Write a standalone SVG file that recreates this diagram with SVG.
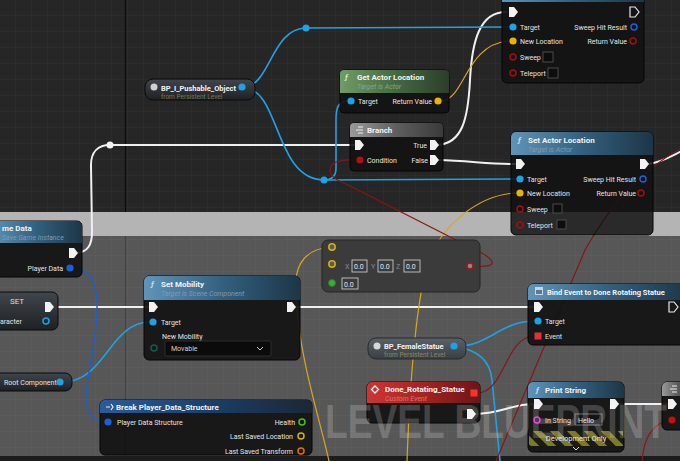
<svg xmlns="http://www.w3.org/2000/svg" width="680" height="461" viewBox="0 0 680 461">
<style>
.t{font-family:Roboto,"Liberation Sans",sans-serif;font-size:7px;fill:#e4e4e4}
.h{font-family:Roboto,"Liberation Sans",sans-serif;font-size:8px;font-weight:bold;fill:#f2f2f2}
.s{font-family:Roboto,"Liberation Sans",sans-serif;font-size:7px;font-style:italic;fill:#7f9bb0}
.e{text-anchor:end}
.body{fill:#121212;fill-opacity:.92;stroke:#050505;stroke-width:1}
.ex{fill:#f2f2f2}
.exo{fill:none;stroke:#e8e8e8;stroke-width:1.2}
.w{fill:none;stroke-linecap:round}
.wx{stroke:#f0f0f0;stroke-width:2}
.wb{stroke:#1ea2e6;stroke-width:1.6}
.wd{stroke:#1a5fd0;stroke-width:1.4}
.wy{stroke:#d6a81e;stroke-width:1.2}
.wr{stroke:#8c1414;stroke-width:1.2}
.box{fill:#0d0d0d;stroke:#4a4a4a;stroke-width:1}
.pb{fill:#1ea2e6}
.vb{fill:none;stroke:#d8d8d8;stroke-width:.8}
.vl{font-family:Roboto,"Liberation Sans",sans-serif;font-size:7px;fill:#e8e8e8}
.vx{font-family:Roboto,"Liberation Sans",sans-serif;font-size:7px;fill:#8a8a8a}
</style>
<defs>
<pattern id="gTop" width="16" height="16" patternUnits="userSpaceOnUse"><path d="M16 0V16H0" fill="none" stroke="#303030" stroke-width="1"/></pattern>
<pattern id="gLow" width="16" height="16" patternUnits="userSpaceOnUse"><path d="M16 0V16H0" fill="none" stroke="#5e5e5e" stroke-width="1"/></pattern>
<linearGradient id="hB" x1="0" x2="1"><stop offset="0" stop-color="#5f94ba"/><stop offset=".5" stop-color="#33607f"/><stop offset="1" stop-color="#1d3648"/></linearGradient>
<linearGradient id="hB2" x1="0" x2="1"><stop offset="0" stop-color="#2a5c9a"/><stop offset=".6" stop-color="#1a3a60"/><stop offset="1" stop-color="#1a2836"/></linearGradient>
<linearGradient id="hG" x1="0" x2="1"><stop offset="0" stop-color="#6f9c68"/><stop offset=".5" stop-color="#456a42"/><stop offset="1" stop-color="#2c3e2a"/></linearGradient>
<linearGradient id="hGr" x1="0" x2="1"><stop offset="0" stop-color="#9a9a9a"/><stop offset=".5" stop-color="#5e5e5e"/><stop offset="1" stop-color="#3a3a3a"/></linearGradient>
<linearGradient id="hR" x1="0" x2="1"><stop offset="0" stop-color="#d03434"/><stop offset=".6" stop-color="#9a2020"/><stop offset="1" stop-color="#6a1616"/></linearGradient>
<linearGradient id="pill" x1="0" y1="0" x2="0" y2="1"><stop offset="0" stop-color="#40464c"/><stop offset="1" stop-color="#1e2124"/></linearGradient>
<linearGradient id="pill2" x1="0" y1="0" x2="0" y2="1"><stop offset="0" stop-color="#5a6168"/><stop offset="1" stop-color="#3a3f44"/></linearGradient>
<pattern id="stripes" width="12" height="12" patternUnits="userSpaceOnUse" patternTransform="rotate(-45)"><rect width="12" height="12" fill="#1c1c14"/><rect width="6" height="12" fill="#7d7a2a"/></pattern>
<path id="exec" d="M-4,-5H1L5,0L1,5H-4Z"/>
</defs>

<!-- background -->
<rect x="0" y="0" width="680" height="461" fill="#262626"/>
<rect x="0" y="0" width="680" height="212" fill="url(#gTop)"/>
<line x1="125.5" y1="0" x2="125.5" y2="212" stroke="#0c0c0c" stroke-width="1.2"/>
<rect x="0" y="236" width="680" height="220" fill="#575757"/>
<rect x="0" y="236" width="680" height="220" fill="url(#gLow)"/>
<line x1="125.5" y1="236" x2="125.5" y2="456" stroke="#444" stroke-width="1.2"/>
<rect x="0" y="212" width="680" height="24" fill="#b4b4b4"/>
<rect x="0" y="456" width="680" height="5" fill="#1c1c1c"/>

<g id="connectors">
<path class="w wx" d="M76,253 C88,252 92,245 92,232 L91,165 C91,152 98,145 110,145 L356,145"/>
<path class="w wx" d="M438,145 C462,143 468,120 470,80 C472,40 480,12 506,12"/>
<path class="w wx" d="M438,160 C470,161 490,164 516,164"/>
<path class="w wx" d="M648,164 C660,163 670,157 680,152"/>
<path class="w wx" d="M53,307 L149,307"/>
<path class="w wx" d="M295,307 L534,307"/>
<path class="w wx" d="M474,414 C505,413 510,404 535,404"/>
<path class="w wx" d="M618,404 L668,404"/>
<path class="w wb" d="M245,87 C270,85 272,28 306,28 L509,27"/>
<path class="w wb" d="M245,88 C280,90 275,180 324,180 L516,179"/>
<path class="w wb" d="M348,101 C338,101 336,108 336,120 L336,168 C336,176 332,180 324,180"/>
<path class="w wb" d="M63,382 C105,382 110,322 150,322"/>
<path class="w wb" d="M457,346 C490,346 500,321 535,321"/>
<path class="w wb" d="M457,347 C478,350 490,360 492,380 L500,461"/>
<path class="w wd" d="M73,268 C92,270 98,285 97,310 C96,350 85,380 86,400 C87,415 95,422 105,422"/>
<path class="w wy" d="M441,101 C465,100 465,45 508,41"/>
<path class="w wy" d="M517,193 C480,194 440,225 427,265 C415,310 410,380 407,461"/>
<path class="w wy" d="M330,247 C300,250 293,270 296,300 C300,360 320,420 329,461"/>
<path class="w wr" d="M357,160 C338,159 330,163 330,170 C330,178 340,181 350,186 L462,243 C500,260 500,268 474,266"/>
<path class="w wr" d="M682,148 C640,170 610,205 585,250 L496,461"/>
<path class="w wr" d="M477,393 C505,393 505,336 535,336"/>
<path class="w wr" d="M669,420 C650,425 644,440 642,461"/>
<circle cx="110" cy="145" r="3.5" fill="#f4f4f4"/>
<circle cx="306" cy="28" r="3.5" fill="#1ea2e6"/>
<circle cx="324" cy="180" r="3.5" fill="#1ea2e6"/>
</g>

<!-- top partial node -->
<g id="node-set-actor-location-top">
<rect class="body" x="502" y="-10" width="142" height="93" rx="5"/>
<rect x="502" y="-10" width="142" height="12" fill="url(#hB)"/>
<use href="#exec" x="513" y="12" class="ex"/>
<use href="#exec" x="634" y="12" class="exo"/>
<circle cx="513" cy="27" r="3.6" class="pb"/><text class="t" x="520" y="30">Target</text>
<text class="t e" x="627" y="30">Sweep Hit Result</text><circle cx="634" cy="27" r="3" fill="none" stroke="#1760e0" stroke-width="1.5"/>
<circle cx="513" cy="41" r="3.6" fill="#e8b400"/><text class="t" x="520" y="44">New Location</text>
<text class="t e" x="627" y="44">Return Value</text><circle cx="633" cy="41" r="3" fill="none" stroke="#a01010" stroke-width="1.5"/>
<circle cx="513" cy="57" r="3" fill="none" stroke="#a01010" stroke-width="1.5"/><text class="t" x="520" y="60">Sweep</text>
<rect class="box" x="543" y="52" width="10" height="10"/>
<circle cx="513" cy="73" r="3" fill="none" stroke="#a01010" stroke-width="1.5"/><text class="t" x="520" y="76">Teleport</text>
<rect class="box" x="548" y="68" width="10" height="10"/>
</g>

<g id="node-bp-pushable">
<rect x="145" y="79" width="110" height="21" rx="8" fill="url(#pill)" stroke="#0a0a0a"/>
<circle cx="154" cy="87" r="3.5" fill="#cfcfcf"/>
<text class="h" x="161" y="91" style="font-size:7.5px">BP_I_Pushable_Object</text>
<text class="t" x="161" y="98.5" style="font-size:6.5px;fill:#7a774c">from Persistent Level</text>
<circle cx="242" cy="87" r="3.6" class="pb"/>
</g>

<g id="node-get-actor-location">
<rect class="body" x="340" y="70" width="109" height="43" rx="4"/>
<rect x="340" y="70" width="109" height="23" rx="4" fill="url(#hG)"/>
<rect x="340" y="88" width="109" height="5" fill="url(#hG)"/>
<text class="h" x="345" y="80" style="font-style:italic;fill:#cfe8cc">ƒ</text>
<text class="h" x="357" y="80">Get Actor Location</text>
<text class="s" x="357" y="89" style="fill:#86a884">Target is Actor</text>
<circle cx="351" cy="101" r="3.6" class="pb"/><text class="t" x="358" y="104">Target</text>
<text class="t e" x="432" y="104">Return Value</text><circle cx="438" cy="101" r="3.6" fill="#e8b400"/>
</g>

<g id="node-branch">
<rect class="body" x="350" y="123" width="93" height="48" rx="4"/>
<rect x="350" y="123" width="93" height="14" rx="4" fill="url(#hGr)"/>
<rect x="350" y="133" width="93" height="4" fill="url(#hGr)"/>
<path d="M358,127h5M356,130h7M358,133h5" stroke="#eee" stroke-width="1.2" fill="none"/>
<text class="h" x="367" y="133">Branch</text>
<use href="#exec" x="359" y="145" class="ex"/>
<text class="t e" x="427" y="148">True</text><use href="#exec" x="434" y="145" class="ex"/>
<circle cx="360" cy="160" r="3.6" fill="#b01010"/><text class="t" x="367" y="163">Condition</text>
<text class="t e" x="428" y="163">False</text><use href="#exec" x="434" y="160" class="ex"/>
</g>

<g id="node-set-actor-location">
<rect class="body" x="511" y="132" width="142" height="103" rx="5" style="fill-opacity:.85"/>
<rect x="511" y="132" width="142" height="23" rx="5" fill="url(#hB)"/>
<rect x="511" y="150" width="142" height="5" fill="url(#hB)"/>
<text class="h" x="518" y="143" style="font-style:italic;fill:#cde">ƒ</text>
<text class="h" x="528" y="143">Set Actor Location</text>
<text class="s" x="528" y="152">Target is Actor</text>
<use href="#exec" x="520" y="164" class="ex"/>
<use href="#exec" x="644" y="164" class="ex"/>
<circle cx="520" cy="179" r="3.6" class="pb"/><text class="t" x="527" y="182">Target</text>
<text class="t e" x="636" y="182">Sweep Hit Result</text><circle cx="643" cy="179" r="3" fill="none" stroke="#1760e0" stroke-width="1.5"/>
<circle cx="520" cy="193" r="3.6" fill="#e8b400"/><text class="t" x="527" y="196">New Location</text>
<text class="t e" x="636" y="196">Return Value</text><circle cx="641" cy="193" r="3" fill="none" stroke="#a01010" stroke-width="1.5"/>
<circle cx="520" cy="209" r="3" fill="none" stroke="#a01010" stroke-width="1.5"/><text class="t" x="527" y="212">Sweep</text>
<rect class="box" x="553" y="204" width="9" height="9"/>
<circle cx="520" cy="225" r="3" fill="none" stroke="#a01010" stroke-width="1.5"/><text class="t" x="527" y="228">Teleport</text>
<rect class="box" x="557" y="220" width="9" height="9"/>
</g>

<g id="node-load-game-data">
<rect class="body" x="-10" y="221" width="92" height="56" rx="5"/>
<rect x="-10" y="221" width="92" height="22" rx="5" fill="url(#hB)"/>
<rect x="-10" y="238" width="92" height="5" fill="url(#hB)"/>
<text class="h" x="2" y="231">me Data</text>
<text class="s" x="2" y="240">Save Game Instance</text>
<use href="#exec" x="73" y="253" class="ex"/>
<text class="t e" x="63" y="271">Player Data</text><circle cx="70" cy="268" r="3.6" fill="#1560dc"/>
</g>

<g id="node-set">
<rect x="-10" y="292" width="68" height="38" rx="6" fill="url(#pill)" stroke="#0a0a0a"/>
<text class="h" x="17" y="304" style="text-anchor:middle;font-weight:normal;fill:#d8dde2">SET</text>
<use href="#exec" x="49" y="307" class="ex"/>
<text class="t" x="0" y="324">aracter</text>
<circle cx="46" cy="321" r="3" fill="#0d2a3a" stroke="#1ea2e6" stroke-width="1.5"/>
</g>

<g id="node-root-component">
<rect x="-10" y="373" width="82" height="18" rx="7" fill="url(#pill)" stroke="#0a0a0a"/>
<text class="t" x="4" y="385">Root Component</text>
<circle cx="60" cy="382" r="3.6" class="pb"/>
</g>

<g id="node-set-mobility">
<rect class="body" x="144" y="276" width="156" height="84" rx="5"/>
<rect x="144" y="276" width="156" height="24" rx="5" fill="url(#hB)"/>
<rect x="144" y="295" width="156" height="5" fill="url(#hB)"/>
<text class="h" x="151" y="287" style="font-style:italic;fill:#cde">ƒ</text>
<text class="h" x="161" y="287">Set Mobility</text>
<text class="s" x="161" y="296">Target is Scene Component</text>
<use href="#exec" x="153" y="307" class="ex"/>
<use href="#exec" x="291" y="307" class="ex"/>
<circle cx="153" cy="322" r="3.6" class="pb"/><text class="t" x="161" y="325">Target</text>
<text class="t" x="162" y="339">New Mobility</text>
<circle cx="154" cy="348" r="3" fill="none" stroke="#0e5e4c" stroke-width="1.5"/>
<rect x="165" y="341" width="106" height="15" rx="1" fill="#0b0b0b" stroke="#2e2e2e"/>
<text class="t" x="171" y="351" style="fill:#cfcfcf">Movable</text>
<path d="M257,347 L260,350 L263,347" fill="none" stroke="#ccc" stroke-width="1"/>
</g>

<g id="node-vector">
<rect x="322" y="240" width="158" height="52" rx="6" fill="#3b3b3b" stroke="#252525"/>
<circle cx="332" cy="247" r="3.2" fill="#5a5a5a" stroke="#e0b000" stroke-width="1.5"/>
<circle cx="332" cy="264" r="3.2" fill="#5a5a5a" stroke="#e0b000" stroke-width="1.5"/>
<circle cx="332" cy="283" r="3.4" fill="#3bb030" stroke="#2a8a20" stroke-width="1"/>
<text class="vx" x="345" y="269">X</text><rect class="vb" x="352" y="260" width="15" height="12"/><text class="vl" x="354" y="269">0.0</text>
<text class="vx" x="371" y="269">Y</text><rect class="vb" x="378" y="260" width="15" height="12"/><text class="vl" x="380" y="269">0.0</text>
<text class="vx" x="396" y="269">Z</text><rect class="vb" x="404" y="260" width="16" height="12"/><text class="vl" x="406" y="269">0.0</text>
<rect class="vb" x="342" y="278" width="16" height="11"/><text class="vl" x="344" y="286.5">0.0</text>
<circle cx="470" cy="266" r="3" fill="#8a8a8a" stroke="#a01818" stroke-width="1.5"/>
</g>

<g id="node-bind-event">
<rect class="body" x="528" y="284" width="160" height="61" rx="5"/>
<rect x="528" y="284" width="160" height="16" rx="5" fill="url(#hB)"/>
<rect x="528" y="296" width="160" height="4" fill="url(#hB)"/>
<rect x="535" y="287" width="8" height="8" fill="#c8d4de"/><rect x="536" y="290" width="6" height="4" fill="#5d7890"/>
<text class="h" x="547" y="295" style="font-size:7.5px">Bind Event to Done Rotating Statue</text>
<use href="#exec" x="538" y="307" class="ex"/>
<use href="#exec" x="673" y="307" class="exo"/>
<circle cx="538" cy="321" r="3.6" class="pb"/><text class="t" x="545" y="324">Target</text>
<rect x="534.5" y="332.5" width="7" height="7" fill="#e43030"/><text class="t" x="545" y="339">Event</text>
</g>

<g id="node-bp-female-statue">
<rect x="368" y="338" width="98" height="21" rx="8" fill="url(#pill2)" stroke="#2a2a2a"/>
<circle cx="377" cy="346" r="3.5" fill="#d8d8d8"/>
<text class="h" x="384" y="349" style="font-size:7.5px">BP_FemaleStatue</text>
<text class="t" x="384" y="356.5" style="font-size:6.5px;fill:#8c8960">from Persistent Level</text>
<circle cx="454" cy="346" r="3.6" class="pb"/>
</g>

<g id="node-done-rotating-statue">
<rect class="body" x="367" y="382" width="113" height="41" rx="5"/>
<rect x="367" y="382" width="113" height="21" rx="5" fill="url(#hR)"/>
<rect x="367" y="398" width="113" height="5" fill="url(#hR)"/>
<path d="M375,386 L378.5,389.5 L375,393 L371.5,389.5Z" fill="none" stroke="#fff" stroke-width="1.3"/>
<text class="h" x="385" y="392">Done_Rotating_Statue</text>
<text class="s" x="385" y="401" style="fill:#e07070">Custom Event</text>
<rect x="470.5" y="389.5" width="7" height="7" fill="#ff3030"/>
<use href="#exec" x="471" y="414" class="ex"/>
</g>

<g id="node-print-string">
<rect class="body" x="528" y="382" width="96" height="70" rx="5"/>
<rect x="528" y="382" width="96" height="16" rx="5" fill="url(#hB)"/>
<rect x="528" y="394" width="96" height="4" fill="url(#hB)"/>
<text class="h" x="536" y="393" style="font-style:italic;fill:#cde">ƒ</text>
<text class="h" x="545" y="393">Print String</text>
<use href="#exec" x="538" y="404" class="ex"/>
<use href="#exec" x="614" y="404" class="ex"/>
<circle cx="537" cy="420" r="3" fill="none" stroke="#e020e0" stroke-width="1.5"/>
<text class="t" x="545" y="423">In String</text>
<rect x="575" y="414" width="27" height="11" fill="#151515" stroke="#888" stroke-width=".8"/>
<text class="t" x="578" y="422.5">Hello</text>
<rect x="529" y="431" width="94" height="15" fill="url(#stripes)"/>
<text class="t" x="576" y="441" style="text-anchor:middle;font-size:7.5px">Development Only</text>
<path d="M573,447 L576,450 L579,447" fill="none" stroke="#ddd" stroke-width="1"/>
</g>

<g id="node-right-partial">
<rect class="body" x="662" y="382" width="30" height="48" rx="5"/>
<rect x="662" y="382" width="30" height="14" rx="5" fill="url(#hGr)"/>
<rect x="662" y="392" width="30" height="4" fill="url(#hGr)"/>
<path d="M672,386h5M670,389h7M672,392h5" stroke="#eee" stroke-width="1.2" fill="none"/>
<use href="#exec" x="672" y="404" class="ex"/>
<circle cx="672" cy="420" r="3.6" fill="#c01010"/>
</g>

<g id="node-break-player-data">
<rect class="body" x="100" y="400" width="212" height="55" rx="5"/>
<rect x="100" y="400" width="212" height="13" rx="5" fill="url(#hB2)"/>
<rect x="100" y="409" width="212" height="4" fill="url(#hB2)"/>
<path d="M106,407h4M111,404l2,3l-2,3" stroke="#eee" stroke-width="1.2" fill="none"/>
<text class="h" x="116" y="410">Break Player_Data_Structure</text>
<circle cx="108" cy="422" r="3.6" fill="#1560dc"/><text class="t" x="117" y="425">Player Data Structure</text>
<text class="t e" x="295" y="425">Health</text><circle cx="302" cy="422" r="3" fill="none" stroke="#4ac020" stroke-width="1.5"/>
<text class="t e" x="293" y="439">Last Saved Location</text><circle cx="301" cy="436" r="3" fill="none" stroke="#e0b000" stroke-width="1.5"/>
<text class="t e" x="293" y="454">Last Saved Transform</text><circle cx="301" cy="451" r="3" fill="none" stroke="#e07000" stroke-width="1.5"/>
</g>

<text x="325" y="438" textLength="342" lengthAdjust="spacingAndGlyphs" style="font-family:'Liberation Sans',Roboto,sans-serif;font-size:48px;font-weight:bold;fill:#ffffff;fill-opacity:.2">LEVEL BLUEPRINT</text>
</svg>
